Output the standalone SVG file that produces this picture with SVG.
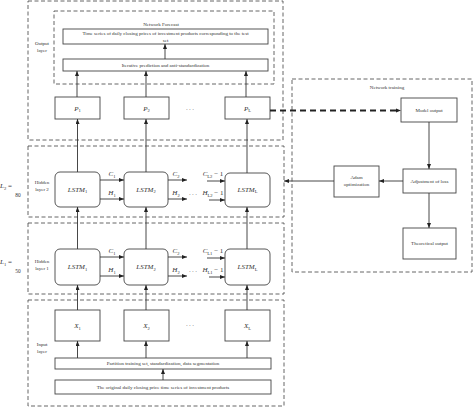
<svg xmlns="http://www.w3.org/2000/svg" width="474" height="407" viewBox="0 0 474 407">
<defs>
<marker id="ah" viewBox="0 0 10 8" refX="10" refY="4" markerWidth="5" markerHeight="4" markerUnits="userSpaceOnUse" orient="auto">
<path d="M0,0 L10,4 L0,8 z" fill="#222"/>
</marker>
</defs>
<style>
text{font-family:"Liberation Serif","DejaVu Serif",serif;fill:#333}
.s{font-size:5px}
.m{font-size:5.4px}
.v{font-size:7px;font-style:italic}
.sub{font-size:4.6px;font-style:normal}
.dash{fill:none;stroke:#555;stroke-width:0.9;stroke-dasharray:4 2.5}
.box{fill:#fff;stroke:#444;stroke-width:0.9}
.ln{fill:none;stroke:#333;stroke-width:0.9}
</style>
<rect width="474" height="407" fill="#fff"/>

<!-- layer frames -->
<g id="frames">
<rect class="dash" x="28" y="1" width="255" height="139"/>
<rect class="dash" x="54" y="11" width="220" height="73"/>
<rect class="dash" x="28" y="146" width="256" height="71"/>
<rect class="dash" x="28" y="223" width="256" height="71"/>
<rect class="dash" x="28" y="300" width="256" height="106"/>
<rect class="dash" x="292" y="79" width="180" height="193"/>
</g>

<g id="labels">
<text class="s" x="161" y="26" text-anchor="middle">Network Forecast</text>
<text class="s" x="42" y="45" text-anchor="middle">Output</text>
<text class="s" x="42" y="52" text-anchor="middle">layer</text>
<text class="s" x="42" y="184" text-anchor="middle">Hidden</text>
<text class="s" x="42" y="191" text-anchor="middle">layer 2</text>
<text class="s" x="42" y="263" text-anchor="middle">Hidden</text>
<text class="s" x="42" y="270" text-anchor="middle">layer 1</text>
<text class="s" x="42" y="346" text-anchor="middle">Input</text>
<text class="s" x="42" y="353" text-anchor="middle">layer</text>
<text class="v" x="0" y="188">L<tspan class="sub" dy="1.5">2</tspan><tspan font-style="normal" dy="-1.5"> =</tspan></text>
<text class="m" x="18" y="197" text-anchor="middle">80</text>
<text class="v" x="0" y="264">L<tspan class="sub" dy="1.5">1</tspan><tspan font-style="normal" dy="-1.5"> =</tspan></text>
<text class="m" x="18" y="273" text-anchor="middle">50</text>
<text class="s" x="387" y="89" text-anchor="middle">Network training</text>
</g>

<!-- output layer nodes -->
<g id="n-timeseries">
<rect class="box" x="63" y="29" width="205" height="15"/>
<text class="s" x="165.5" y="35" text-anchor="middle">Time series of daily closing prices of investment products corresponding to the test</text>
<text class="s" x="165.5" y="41.5" text-anchor="middle">set</text>
</g>
<g id="n-iterative">
<rect class="box" x="63" y="59" width="205" height="12"/>
<text class="s" x="165.5" y="66.7" text-anchor="middle">Iterative prediction and anti-standardization</text>
</g>
<g id="n-p1"><rect class="box" x="55" y="97" width="45" height="22"/><text class="v" x="77.5" y="110.5" text-anchor="middle">P<tspan class="sub" dy="1.5">1</tspan></text></g>
<g id="n-p2"><rect class="box" x="124" y="97" width="45" height="22"/><text class="v" x="146.5" y="110.5" text-anchor="middle">P<tspan class="sub" dy="1.5">2</tspan></text></g>
<g id="n-pl"><rect class="box" x="225" y="97" width="45" height="22"/><text class="v" x="247.5" y="110.5" text-anchor="middle">P<tspan class="sub" dy="1.5">L</tspan></text></g>
<text class="m" x="190" y="112" text-anchor="middle">· · ·</text>

<!-- hidden layer 2 -->
<g id="n-h2-1"><rect class="box" x="55" y="172" width="45" height="35" rx="5"/><text class="v" x="77.5" y="191.5" text-anchor="middle">LSTM<tspan class="sub" dy="1.5">1</tspan></text></g>
<g id="n-h2-2"><rect class="box" x="124" y="172" width="44" height="35" rx="5"/><text class="v" x="146" y="191.5" text-anchor="middle">LSTM<tspan class="sub" dy="1.5">2</tspan></text></g>
<g id="n-h2-l"><rect class="box" x="225" y="173" width="45" height="34" rx="5"/><text class="v" x="247.5" y="191.5" text-anchor="middle">LSTM<tspan class="sub" dy="1.5">L</tspan></text></g>

<!-- hidden layer 1 -->
<g id="n-h1-1"><rect class="box" x="55" y="249" width="45" height="36" rx="5"/><text class="v" x="77.5" y="269" text-anchor="middle">LSTM<tspan class="sub" dy="1.5">1</tspan></text></g>
<g id="n-h1-2"><rect class="box" x="124" y="249" width="44" height="36" rx="5"/><text class="v" x="146" y="269" text-anchor="middle">LSTM<tspan class="sub" dy="1.5">2</tspan></text></g>
<g id="n-h1-l"><rect class="box" x="225" y="249" width="45" height="36" rx="5"/><text class="v" x="247.5" y="269" text-anchor="middle">LSTM<tspan class="sub" dy="1.5">L</tspan></text></g>

<!-- input layer -->
<g id="n-x1"><rect class="box" x="55" y="310" width="45" height="31"/><text class="v" x="77.5" y="328" text-anchor="middle">X<tspan class="sub" dy="1.5">1</tspan></text></g>
<g id="n-x2"><rect class="box" x="124" y="310" width="45" height="31"/><text class="v" x="146.5" y="328" text-anchor="middle">X<tspan class="sub" dy="1.5">2</tspan></text></g>
<g id="n-xl"><rect class="box" x="225" y="310" width="45" height="31"/><text class="v" x="247.5" y="328" text-anchor="middle">X<tspan class="sub" dy="1.5">L</tspan></text></g>
<text class="m" x="190" y="328" text-anchor="middle">· · ·</text>
<g id="n-partition">
<rect class="box" x="55" y="358" width="216" height="11"/>
<text class="s" x="163" y="365.3" text-anchor="middle">Partition training set, standardization, data segmentation</text>
</g>
<g id="n-original">
<rect class="box" x="55" y="380" width="216" height="14"/>
<text class="s" x="163" y="388.7" text-anchor="middle">The original daily closing price time series of investment products</text>
</g>

<!-- network training -->
<g id="n-model"><rect class="box" x="401" y="98" width="56" height="24"/><text class="s" x="429" y="111.8" text-anchor="middle">Model output</text></g>
<g id="n-adjust"><rect class="box" x="403" y="169" width="53" height="24"/><text class="s" x="429.5" y="182.8" text-anchor="middle">Adjustment of loss</text></g>
<g id="n-adam"><rect class="box" x="334" y="166" width="45" height="31"/><text class="s" x="356.5" y="179" text-anchor="middle">Adam</text><text class="s" x="356.5" y="186" text-anchor="middle">optimization</text></g>
<g id="n-theory"><rect class="box" x="403" y="228" width="53" height="31"/><text class="s" x="429.5" y="245.3" text-anchor="middle">Theoretical output</text></g>

<!-- connectors -->
<g id="connectors">
<line class="ln" x1="165" y1="59" x2="165" y2="44" marker-end="url(#ah)"/>
<line class="ln" x1="77" y1="97" x2="77" y2="71" marker-end="url(#ah)"/>
<line class="ln" x1="146" y1="97" x2="146" y2="71" marker-end="url(#ah)"/>
<line class="ln" x1="246" y1="97" x2="246" y2="71" marker-end="url(#ah)"/>
<line class="ln" x1="77.5" y1="172" x2="77.5" y2="119" marker-end="url(#ah)"/>
<line class="ln" x1="146" y1="172" x2="146" y2="119" marker-end="url(#ah)"/>
<line class="ln" x1="247" y1="173" x2="247" y2="119" marker-end="url(#ah)"/>
<line class="ln" x1="77.5" y1="249" x2="77.5" y2="207" marker-end="url(#ah)"/>
<line class="ln" x1="146" y1="249" x2="146" y2="207" marker-end="url(#ah)"/>
<line class="ln" x1="247" y1="249" x2="247" y2="207" marker-end="url(#ah)"/>
<line class="ln" x1="77.5" y1="310" x2="77.5" y2="285" marker-end="url(#ah)"/>
<line class="ln" x1="146" y1="310" x2="146" y2="285" marker-end="url(#ah)"/>
<line class="ln" x1="247" y1="310" x2="247" y2="285" marker-end="url(#ah)"/>
<line class="ln" x1="77.5" y1="358" x2="77.5" y2="341" marker-end="url(#ah)"/>
<line class="ln" x1="146" y1="358" x2="146" y2="341" marker-end="url(#ah)"/>
<line class="ln" x1="247" y1="358" x2="247" y2="341" marker-end="url(#ah)"/>
<line class="ln" x1="163" y1="380" x2="163" y2="369" marker-end="url(#ah)"/>

<!-- hidden 2 recurrent -->
<line class="ln" x1="100" y1="180" x2="124" y2="180" marker-end="url(#ah)"/>
<line class="ln" x1="100" y1="199" x2="124" y2="199" marker-end="url(#ah)"/>
<line class="ln" x1="168" y1="180" x2="187" y2="180" marker-end="url(#ah)"/>
<line class="ln" x1="168" y1="199" x2="187" y2="199" marker-end="url(#ah)"/>
<line class="ln" x1="207" y1="181" x2="225" y2="181" marker-end="url(#ah)"/>
<line class="ln" x1="209" y1="200" x2="225" y2="200" marker-end="url(#ah)"/>
<!-- hidden 1 recurrent -->
<line class="ln" x1="100" y1="257" x2="124" y2="257" marker-end="url(#ah)"/>
<line class="ln" x1="100" y1="276" x2="124" y2="276" marker-end="url(#ah)"/>
<line class="ln" x1="168" y1="257" x2="187" y2="257" marker-end="url(#ah)"/>
<line class="ln" x1="168" y1="276" x2="187" y2="276" marker-end="url(#ah)"/>
<line class="ln" x1="207" y1="258" x2="225" y2="258" marker-end="url(#ah)"/>
<line class="ln" x1="209" y1="277" x2="225" y2="277" marker-end="url(#ah)"/>

<!-- training -->
<line fill="none" stroke="#222" stroke-width="1.8" stroke-dasharray="6 4" x1="270" y1="110.5" x2="396" y2="110.5"/>
<path d="M396,108.5 L401,110.5 L396,112.5 z" fill="#222"/>
<line class="ln" x1="429" y1="122" x2="429" y2="169" marker-end="url(#ah)"/>
<line class="ln" x1="429" y1="193" x2="429" y2="228" marker-end="url(#ah)"/>
<line class="ln" x1="403" y1="181" x2="379" y2="181" marker-end="url(#ah)"/>
<line class="ln" x1="334" y1="181" x2="284" y2="181" marker-end="url(#ah)"/>
</g>

<g id="edge-labels">
<text class="v" x="112" y="176" text-anchor="middle">C<tspan class="sub" dy="1.5">1</tspan></text>
<text class="v" x="112" y="195" text-anchor="middle">H<tspan class="sub" dy="1.5">1</tspan></text>
<text class="v" x="176" y="176" text-anchor="middle">C<tspan class="sub" dy="1.5">2</tspan></text>
<text class="v" x="176" y="195" text-anchor="middle">H<tspan class="sub" dy="1.5">2</tspan></text>
<text class="m" x="193" y="197" text-anchor="middle">· · ·</text>
<text class="v" x="213" y="176" text-anchor="middle" font-size="6">C<tspan class="sub" dy="1.5">L2</tspan><tspan font-style="normal" dy="-1.5"> − 1</tspan></text>
<text class="v" x="213" y="195" text-anchor="middle" font-size="6">H<tspan class="sub" dy="1.5">L2</tspan><tspan font-style="normal" dy="-1.5"> − 1</tspan></text>
<text class="v" x="112" y="253" text-anchor="middle">C<tspan class="sub" dy="1.5">1</tspan></text>
<text class="v" x="112" y="272" text-anchor="middle">H<tspan class="sub" dy="1.5">1</tspan></text>
<text class="v" x="176" y="253" text-anchor="middle">C<tspan class="sub" dy="1.5">2</tspan></text>
<text class="v" x="176" y="272" text-anchor="middle">H<tspan class="sub" dy="1.5">2</tspan></text>
<text class="m" x="193" y="274" text-anchor="middle">· · ·</text>
<text class="v" x="213" y="253" text-anchor="middle" font-size="6">C<tspan class="sub" dy="1.5">L1</tspan><tspan font-style="normal" dy="-1.5"> − 1</tspan></text>
<text class="v" x="213" y="272" text-anchor="middle" font-size="6">H<tspan class="sub" dy="1.5">L1</tspan><tspan font-style="normal" dy="-1.5"> − 1</tspan></text>
</g>
</svg>
